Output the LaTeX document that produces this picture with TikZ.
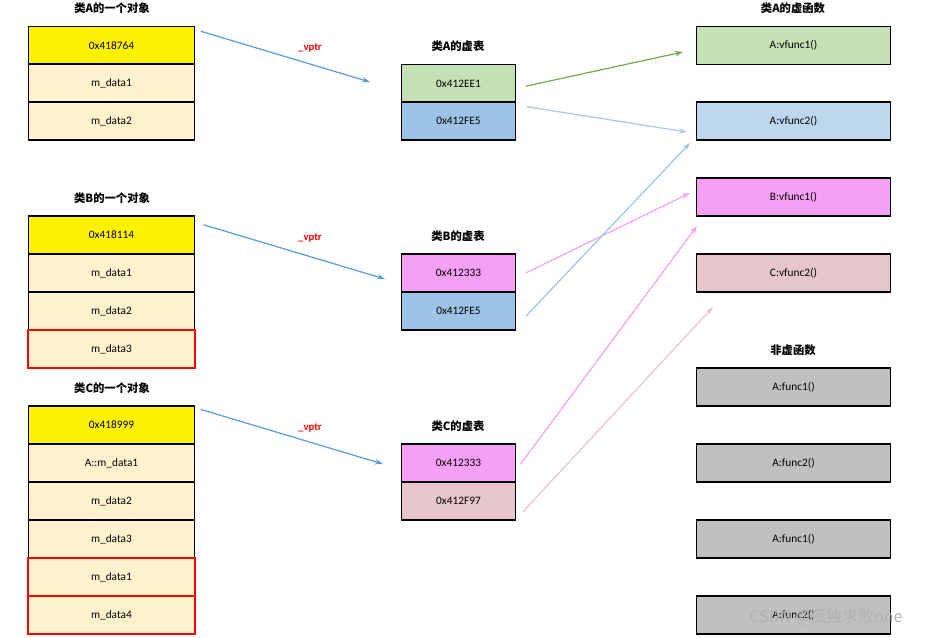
\documentclass[tikz,border=0pt]{standalone}
\usepackage{fontspec}
\setmainfont{Carlito}
\newfontfamily\cjk{Noto Sans CJK SC}
\usetikzlibrary{arrows.meta}
\definecolor{cream}{HTML}{FFF2CC}
\definecolor{grn}{HTML}{C5E0B4}
\definecolor{blu}{HTML}{9DC3E6}
\definecolor{lblu}{HTML}{BDD7EE}
\definecolor{pnk}{HTML}{F4A0F4}
\definecolor{rose}{HTML}{E6C5CC}
\definecolor{gry}{HTML}{C0C0C0}
\definecolor{arr}{HTML}{5B9BD5}
\definecolor{garr}{HTML}{70AD47}
\definecolor{larr}{HTML}{A9C8E6}
\begin{document}
\begin{tikzpicture}[x=0.75pt,y=-0.75pt,
 cell/.style={draw=black,line width=0.9pt,minimum height=28.5pt,inner sep=0pt,font=\fontsize{8.5}{10}\selectfont},
 obj/.style={cell,minimum width=125pt},
 tab/.style={cell,minimum width=86pt},
 fun/.style={cell,minimum width=145pt},
 red/.style={draw=red,line width=1.3pt},
 ttl/.style={font=\cjk\bfseries\fontsize{8.5}{10}\selectfont},
 vp/.style={text=red,font=\bfseries\fontsize{8}{9}\selectfont},
 ar/.style={-{Stealth[length=6pt,width=4pt]},line width=0.9pt}]
\useasboundingbox (0,0) rectangle (933,637);
% object A
\node[ttl] (tA) at (112,8) {类A的一个对象};
\node[obj,fill=yellow] (a0) at (111.5,45.5) {0x418764};
\node[obj,fill=cream] (a1) at (111.5,83) {m\_data1};
\node[obj,fill=cream] (a2) at (111.5,121) {m\_data2};
% object B
\node[ttl] (tB) at (112,198) {类B的一个对象};
\node[obj,fill=yellow] (b0) at (111.5,235) {0x418114};
\node[obj,fill=cream] (b1) at (111.5,273) {m\_data1};
\node[obj,fill=cream] (b2) at (111.5,311) {m\_data2};
\node[obj,fill=cream,red] (b3) at (111.5,349) {m\_data3};
% object C
\node[ttl] (tC) at (112,388) {类C的一个对象};
\node[obj,fill=yellow] (c0) at (111.5,425) {0x418999};
\node[obj,fill=cream] (c1) at (111.5,463) {A::m\_data1};
\node[obj,fill=cream] (c2) at (111.5,501) {m\_data2};
\node[obj,fill=cream] (c3) at (111.5,539) {m\_data3};
\node[obj,fill=cream,red] (c4) at (111.5,577) {m\_data1};
\node[obj,fill=cream,red] (c5) at (111.5,615) {m\_data4};
% tables
\node[ttl] (vA) at (458,46) {类A的虚表};
\node[tab,fill=grn] (va1) at (458.5,83.5) {0x412EE1};
\node[tab,fill=blu] (va2) at (458.5,121) {0x412FE5};
\node[ttl] (vB) at (458,236) {类B的虚表};
\node[tab,fill=pnk] (vb1) at (458.5,273) {0x412333};
\node[tab,fill=blu] (vb2) at (458.5,311) {0x412FE5};
\node[ttl] (vC) at (458,426) {类C的虚表};
\node[tab,fill=pnk] (vc1) at (458.5,463) {0x412333};
\node[tab,fill=rose] (vc2) at (458.5,501) {0x412F97};
% functions
\node[ttl] (fT) at (793,8) {类A的虚函数};
\node[fun,fill=grn] (f1) at (793.5,45.5) {A:vfunc1()};
\node[fun,fill=lblu] (f2) at (793.5,121) {A:vfunc2()};
\node[fun,fill=pnk] (f3) at (793.5,197) {B:vfunc1()};
\node[fun,fill=rose] (f4) at (793.5,273) {C:vfunc2()};
\node[ttl] (nT) at (793,350) {非虚函数};
\node[fun,fill=gry] (g1) at (793.5,387) {A:func1()};
\node[fun,fill=gry] (g2) at (793.5,463) {A:func2()};
\node[fun,fill=gry] (g3) at (793.5,539) {A:func1()};
\node[fun,fill=gry] (g4) at (793.5,615) {A:func2()};
% vptr arrows
\coordinate (p1) at (370,82); \coordinate (p2) at (385,279); \coordinate (p3) at (383,464);
\draw[ar,arr] ([xshift=4pt,yshift=-4pt]a0.north east) -- (p1);
\draw[ar,arr] ([xshift=6pt,yshift=-7pt]b0.north east) -- (p2);
\draw[ar,arr] ([xshift=4pt,yshift=-3pt]c0.north east) -- (p3);
\node[vp] (l1) at (310,48) {\_vptr};
\node[vp] (l2) at (310,238) {\_vptr};
\node[vp] (l3) at (310,428) {\_vptr};
% table arrows
\coordinate (q1) at (683,52); \coordinate (q2) at (687,132); \coordinate (q3) at (690,193);
\coordinate (q4) at (690,143); \coordinate (q5) at (697,226); \coordinate (q6) at (713,307);
\draw[ar,color=garr] ([xshift=7pt,yshift=-2pt]va1.east) -- (q1);
\draw[ar,color=larr] ([xshift=8pt,yshift=-4pt]va2.north east) -- (q2);
\draw[ar,color=pnk] ([xshift=7pt]vb1.east) -- (q3);
\draw[ar,color=blu] ([xshift=7pt,yshift=-4pt]vb2.east) -- (q4);
\draw[ar,color=pnk] ([xshift=3pt,yshift=-1pt]vc1.east) -- (q5);
\draw[ar,color=rose] ([xshift=5pt,yshift=-8pt]vc2.east) -- (q6);
\node[text=gray!60,font=\cjk\fontsize{12}{14}\selectfont] (wm) at (826,617) {CSDN @孤独求败one};
\end{tikzpicture}
\end{document}
